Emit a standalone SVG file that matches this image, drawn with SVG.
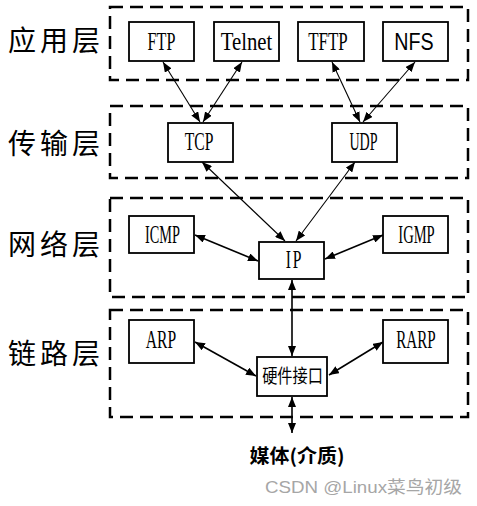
<svg xmlns="http://www.w3.org/2000/svg" width="477" height="506" viewBox="0 0 477 506">
<style>
.layer{fill:none;stroke:#000;stroke-width:2.5;stroke-dasharray:13 7}
.node{fill:#fff;stroke:#000;stroke-width:1.8}
.nt{font-family:"Liberation Serif",serif;text-anchor:middle;fill:#000}
.ct{font-family:"Noto Sans CJK SC",sans-serif;text-anchor:middle;fill:#000}
.lab{font-family:"Noto Sans CJK SC",sans-serif;font-size:28px;fill:#000;letter-spacing:4px}
.c1{stroke:#000;stroke-width:1.1;fill:none;marker-start:url(#ah);marker-end:url(#ah)}
.c2{stroke:#000;stroke-width:1.6;fill:none;marker-start:url(#ah);marker-end:url(#ah)}
</style>
<defs>
<marker id="ah" viewBox="0 0 10 8" refX="10" refY="4" markerWidth="10" markerHeight="8" markerUnits="userSpaceOnUse" orient="auto-start-reverse">
<path d="M0,0 L10,4 L0,8 Z" fill="#000"/>
</marker>
</defs>
<rect width="477" height="506" fill="#fff"/>
<g id="layers">
<rect class="layer" x="110" y="7" width="358" height="73"/>
<rect class="layer" x="110" y="106" width="358" height="72"/>
<rect class="layer" x="110" y="198" width="358" height="99"/>
<rect class="layer" x="110" y="310" width="358" height="107"/>
<text class="lab" x="8" y="51">应用层</text>
<text class="lab" x="8" y="154">传输层</text>
<text class="lab" x="8" y="255">网络层</text>
<text class="lab" x="8" y="364">链路层</text>
</g>
<g id="connectors">
<line class="c1" x1="163" y1="62" x2="200" y2="122"/>
<line class="c1" x1="242" y1="62" x2="203" y2="122"/>
<line class="c1" x1="332" y1="62" x2="360" y2="122"/>
<line class="c1" x1="415" y1="62" x2="363" y2="122"/>
<line class="c1" x1="202" y1="162" x2="285" y2="241"/>
<line class="c1" x1="355" y1="162" x2="296" y2="241"/>
<line class="c2" x1="195" y1="235" x2="258" y2="261"/>
<line class="c2" x1="383" y1="235" x2="325" y2="259"/>
<line class="c2" x1="292" y1="280" x2="292" y2="356"/>
<line class="c2" x1="195" y1="342" x2="256" y2="376"/>
<line class="c2" x1="383" y1="342" x2="329" y2="375"/>
<line class="c2" x1="292" y1="397" x2="292" y2="433"/>
</g>
<g id="ftp"><rect class="node" x="129" y="22" width="65" height="39"/><text class="nt" font-size="26" transform="translate(161.5,50) scale(0.62,1)">FTP</text></g>
<g id="telnet"><rect class="node" x="214" y="22" width="65" height="39"/><text class="nt" font-size="26" transform="translate(246.5,50) scale(0.8,1)">Telnet</text></g>
<g id="tftp"><rect class="node" x="298" y="22" width="66" height="39"/><text class="nt" font-size="26" transform="translate(328,50) scale(0.65,1)">TFTP</text></g>
<g id="nfs"><rect class="node" x="383" y="22" width="65" height="39"/><text class="nt" font-size="24" transform="translate(414,50) scale(0.82,1)" style="font-family:'Liberation Sans',sans-serif">NFS</text></g>
<g id="tcp"><rect class="node" x="168" y="123" width="65" height="39"/><text class="nt" font-size="26" transform="translate(199,150) scale(0.6,1)">TCP</text></g>
<g id="udp"><rect class="node" x="332" y="123" width="65" height="39"/><text class="nt" font-size="26" transform="translate(363.5,150) scale(0.54,1)">UDP</text></g>
<g id="icmp"><rect class="node" x="129" y="216" width="65" height="37"/><text class="nt" font-size="26" transform="translate(162.5,243) scale(0.55,1)">ICMP</text></g>
<g id="igmp"><rect class="node" x="383" y="216" width="65" height="37"/><text class="nt" font-size="26" transform="translate(416.5,243) scale(0.56,1)">IGMP</text></g>
<g id="ip"><rect class="node" x="259" y="242" width="65" height="37"/><text class="nt" font-size="26" transform="translate(294.5,268) scale(0.6,1)" letter-spacing="3">IP</text></g>
<g id="arp"><rect class="node" x="129" y="320" width="65" height="43"/><text class="nt" font-size="26" transform="translate(161,348) scale(0.6,1)">ARP</text></g>
<g id="rarp"><rect class="node" x="383" y="320" width="65" height="43"/><text class="nt" font-size="26" transform="translate(416,348) scale(0.58,1)">RARP</text></g>
<g id="hw"><rect class="node" x="257" y="357" width="70" height="39"/><text class="ct" font-size="19" transform="translate(292.5,383) scale(0.8,1)">硬件接口</text></g>
<g id="media"><text x="297" y="463" font-size="19" font-weight="bold" text-anchor="middle" style="font-family:'Noto Sans CJK SC',sans-serif" textLength="95" lengthAdjust="spacingAndGlyphs">媒体(介质)</text></g>
<text x="265" y="493" font-size="17" fill="#a6a6a6" style="font-family:'Liberation Sans','Noto Sans CJK SC',sans-serif" textLength="197" lengthAdjust="spacingAndGlyphs">CSDN @Linux菜鸟初级</text>
</svg>
